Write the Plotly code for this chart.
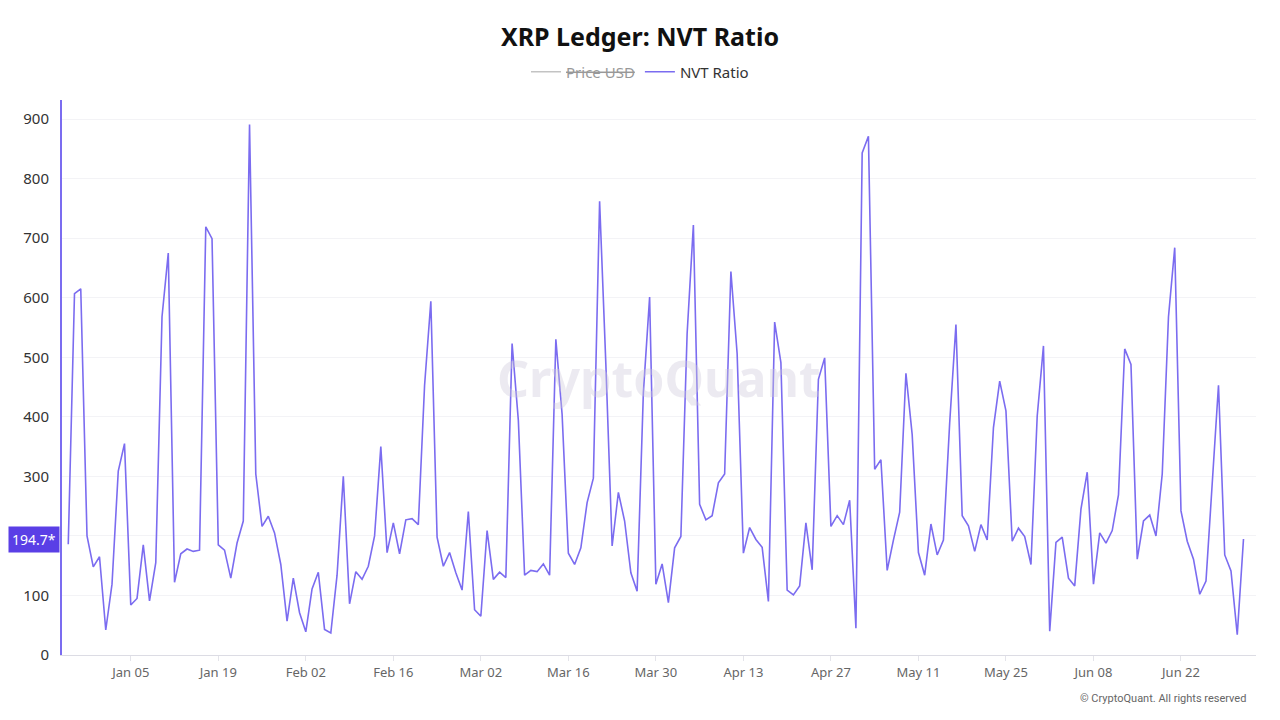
import plotly.graph_objects as go
import pandas as pd

start_date = "2024-12-26"
end_date = "2025-07-02"
dates = pd.date_range(start_date, end_date, freq="D")

nvt_ratio = [
    186, 607, 615, 200, 148, 165, 42, 119, 309, 355,
    84, 95, 185, 91, 155, 568, 675, 122, 170, 178,
    174, 176, 719, 699, 185, 176, 129, 188, 225, 891,
    304, 216, 233, 205, 152, 57, 129, 71, 39, 111,
    139, 43, 37, 134, 300, 86, 140, 127, 149, 200,
    350, 172, 222, 170, 227, 229, 219, 453, 594, 198,
    149, 172, 138, 109, 241, 76, 65, 209, 127, 139,
    130, 523, 394, 134, 142, 140, 153, 134, 530, 404,
    171, 152, 180, 256, 297, 762, 488, 183, 273, 225,
    138, 107, 441, 601, 119, 153, 88, 180, 199, 540,
    722, 253, 227, 234, 289, 304, 644, 506, 171, 214,
    194, 181, 90, 559, 491, 109, 101, 116, 222, 143,
    463, 499, 216, 234, 219, 260, 45, 843, 871, 312,
    328, 142, 193, 240, 473, 370, 172, 134, 220, 168,
    193, 390, 555, 234, 217, 174, 219, 193, 382, 460,
    410, 191, 213, 199, 152, 401, 519, 40, 189, 198,
    129, 116, 245, 307, 119, 205, 188, 209, 269, 514,
    488, 161, 225, 235, 200, 304, 568, 684, 242, 191,
    161, 102, 124, 289, 453, 168, 141, 34, 194.7,
]

y_ticks = [0, 100, 200, 300, 400, 500, 600, 700, 800, 900]
# the "200" label is covered by the last-value marker in the reference
y_tick_text = ["0", "100", "", "300", "400", "500", "600", "700", "800", "900"]
last_label = "194.7*"

LINE = "#7B6CF0"
FONT = "Noto Sans"

fig = go.Figure()
fig.add_trace(go.Scatter(
    x=[dates[0]], y=[None], mode="lines", name="<s>Price USD</s>",
    line=dict(color="#888888", width=1.5), visible="legendonly",
))
fig.add_trace(go.Scatter(
    x=dates, y=nvt_ratio, mode="lines", name="NVT Ratio",
    line=dict(color=LINE, width=1.6),
))

fig.update_layout(
    width=1280, height=720,
    margin=dict(l=62, r=24, t=100, b=65),
    paper_bgcolor="white", plot_bgcolor="white",
    font=dict(family=FONT, color="#333"),
    title=dict(text="<b>XRP Ledger: NVT Ratio</b>", x=0.5, xanchor="center",
               y=1 - 37 / 720, yref="container", yanchor="middle",
               font=dict(size=25, color="#111", family=FONT)),
    legend=dict(orientation="h", x=0.5, xref="container", xanchor="center",
                y=1 - 72 / 720, yref="container", yanchor="middle",
                font=dict(size=15, color="#333"), itemwidth=30),
    showlegend=True,
    annotations=[
        dict(text="<b>CryptoQuant</b>", x=0.5, y=0.5, xref="paper", yref="paper",
             showarrow=False, font=dict(size=50, color="rgba(205,200,218,0.38)", family=FONT)),
        dict(text=last_label, x=0, xref="paper", xanchor="right", y=nvt_ratio[-1], yref="y",
             showarrow=False, bgcolor="#5A3FE6", font=dict(size=14, color="white"),
             borderpad=3, xshift=-2),
        dict(text="© CryptoQuant. All rights reserved",
             x=(1248 - 62) / (1256 - 62), y=-(698 - 655) / (655 - 100),
             xref="paper", yref="paper", showarrow=False, xanchor="right", yanchor="middle",
             font=dict(size=11, color="#666", family="Roboto")),
    ],
)

fig.update_xaxes(
    range=["2024-12-25", "2025-07-04"],
    tick0="2025-01-05", dtick=14 * 86400000, tickformat="%b %d",
    showgrid=False, showline=True, linecolor="#dcdce4", linewidth=1,
    ticks="outside", ticklen=5, tickcolor="#e4e4ea",
    tickfont=dict(size=13, color="#666"),
)
fig.update_yaxes(
    range=[0, 932], tickvals=y_ticks, ticktext=y_tick_text,
    showgrid=True, gridcolor="#f3f3f6", gridwidth=1,
    showline=True, linecolor=LINE, linewidth=2,
    zeroline=False, ticks="", ticklabelstandoff=8,
    tickfont=dict(size=15, color="#333"),
)

fig.write_html("out.html")
